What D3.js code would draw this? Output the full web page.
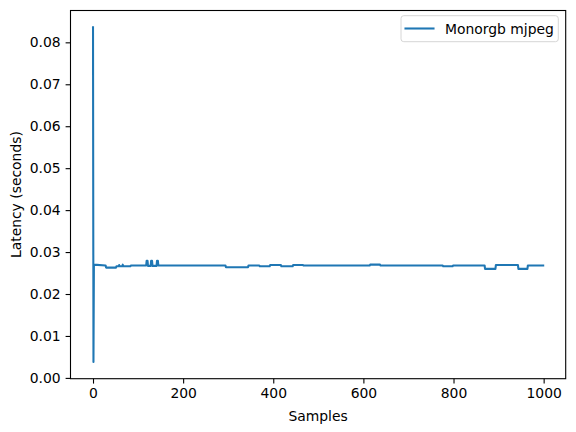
<!DOCTYPE html>
<html>
<head>
<meta charset="utf-8">
<script src="https://cdn.jsdelivr.net/npm/d3@7"></script>
<style>
  html, body { margin: 0; padding: 0; background: #fff; }
  svg { display: block; }
  text { font-family: "DejaVu Sans", sans-serif; fill: #000; }
</style>
</head>
<body>
<svg id="chart" width="576" height="432"></svg>
<script>
// ---- data (level breakpoints of the latency trace) ----
const sampleIdx = [0, 1, 2, 28, 29, 51, 52, 57, 58, 59, 65, 66, 67, 83, 84,
  118, 119, 121, 122, 128, 129, 131, 132, 141, 142, 144, 145, 294, 295, 344,
  345, 369, 370, 392, 393, 417, 418, 443, 444, 466, 467, 614, 615, 637, 638,
  776, 777, 798, 799, 869, 870, 893, 894, 943, 944, 964, 965, 999];
const latency = [0.0836, 0.0038, 0.0270, 0.0268, 0.0263, 0.0263, 0.0266, 0.0266, 0.0269, 0.0266, 0.0266, 0.0270, 0.0266, 0.0266, 0.0268,
  0.0268, 0.0279, 0.0279, 0.0267, 0.0267, 0.0279, 0.0279, 0.0267, 0.0267, 0.0279, 0.0279, 0.0268, 0.0268, 0.0264, 0.0264,
  0.0268, 0.0268, 0.0266, 0.0266, 0.0269, 0.0269, 0.0266, 0.0266, 0.0269, 0.0269, 0.0268, 0.0268, 0.0270, 0.0270, 0.0268,
  0.0268, 0.0266, 0.0266, 0.0268, 0.0268, 0.0260, 0.0260, 0.0269, 0.0269, 0.0260, 0.0260, 0.0268, 0.0268];
const xTicks = [0, 200, 400, 600, 800, 1000];
const yTicks = [0.00, 0.01, 0.02, 0.03, 0.04, 0.05, 0.06, 0.07, 0.08];
const seriesName = "Monorgb mjpeg";
const xLabel = "Samples";
const yLabel = "Latency (seconds)";

const points = sampleIdx.map((s, i) => ({ x: s, y: latency[i] }));

// ---- layout ----
const svg = d3.select("#chart");
const L = 70.5, R = 565.7, T = 10.5, B = 378.7;
const fs = 13.9;
const color = "#1f77b4";

function padded(ext) {
  const d = ext[1] - ext[0];
  return [ext[0] - 0.05 * d, ext[1] + 0.05 * d];
}
const x = d3.scaleLinear().domain(padded(d3.extent(points, d => d.x))).range([L, R]);
const y = d3.scaleLinear().domain(padded(d3.extent(points, d => d.y))).range([B, T]);

// clip
svg.append("defs").append("clipPath").attr("id", "clip")
  .append("rect").attr("x", L).attr("y", T).attr("width", R - L).attr("height", B - T);

// line
const line = d3.line().x(d => x(d.x)).y(d => y(d.y));
svg.append("path")
  .datum(points)
  .attr("clip-path", "url(#clip)")
  .attr("fill", "none")
  .attr("stroke", color)
  .attr("stroke-width", 2.08)
  .attr("stroke-linejoin", "round")
  .attr("stroke-linecap", "square")
  .attr("d", line);

// axes
const xAxis = d3.axisBottom(x).tickValues(xTicks).tickFormat(d3.format("d"))
  .tickSize(4.9).tickPadding(4.9);
const yAxis = d3.axisLeft(y).tickValues(yTicks).tickFormat(d3.format(".2f"))
  .tickSize(4.9).tickPadding(4.9);

const gx = svg.append("g").attr("transform", `translate(0,${B})`).call(xAxis);
const gy = svg.append("g").attr("transform", `translate(${L},0)`).call(yAxis);
[gx, gy].forEach(g => {
  g.select(".domain").remove();
  g.selectAll(".tick line").attr("stroke", "#000").attr("stroke-width", 1.1);
  g.selectAll(".tick text").attr("font-size", fs).attr("font-family", "DejaVu Sans").attr("fill", "#000");
});

// frame
svg.append("rect")
  .attr("x", L).attr("y", T).attr("width", R - L).attr("height", B - T)
  .attr("fill", "none").attr("stroke", "#000").attr("stroke-width", 1.1);

// axis labels
svg.append("text")
  .attr("x", (L + R) / 2).attr("y", 421)
  .attr("text-anchor", "middle").attr("font-size", fs)
  .text(xLabel);
svg.append("text")
  .attr("transform", `translate(20.5,${(T + B) / 2}) rotate(-90)`)
  .attr("text-anchor", "middle").attr("font-size", fs)
  .text(yLabel);

// legend
const lg = svg.append("g");
lg.append("rect")
  .attr("x", 401).attr("y", 15.7).attr("width", 157.3).attr("height", 26)
  .attr("rx", 2.8).attr("ry", 2.8)
  .attr("fill", "#fff").attr("fill-opacity", 0.8)
  .attr("stroke", "#d6d6d6").attr("stroke-width", 1);
lg.append("line")
  .attr("x1", 405.5).attr("x2", 433.5).attr("y1", 28.5).attr("y2", 28.5)
  .attr("stroke", color).attr("stroke-width", 2.08).attr("stroke-linecap", "square");
lg.append("text")
  .attr("x", 445).attr("y", 33.8).attr("font-size", fs)
  .text(seriesName);
</script>
</body>
</html>
